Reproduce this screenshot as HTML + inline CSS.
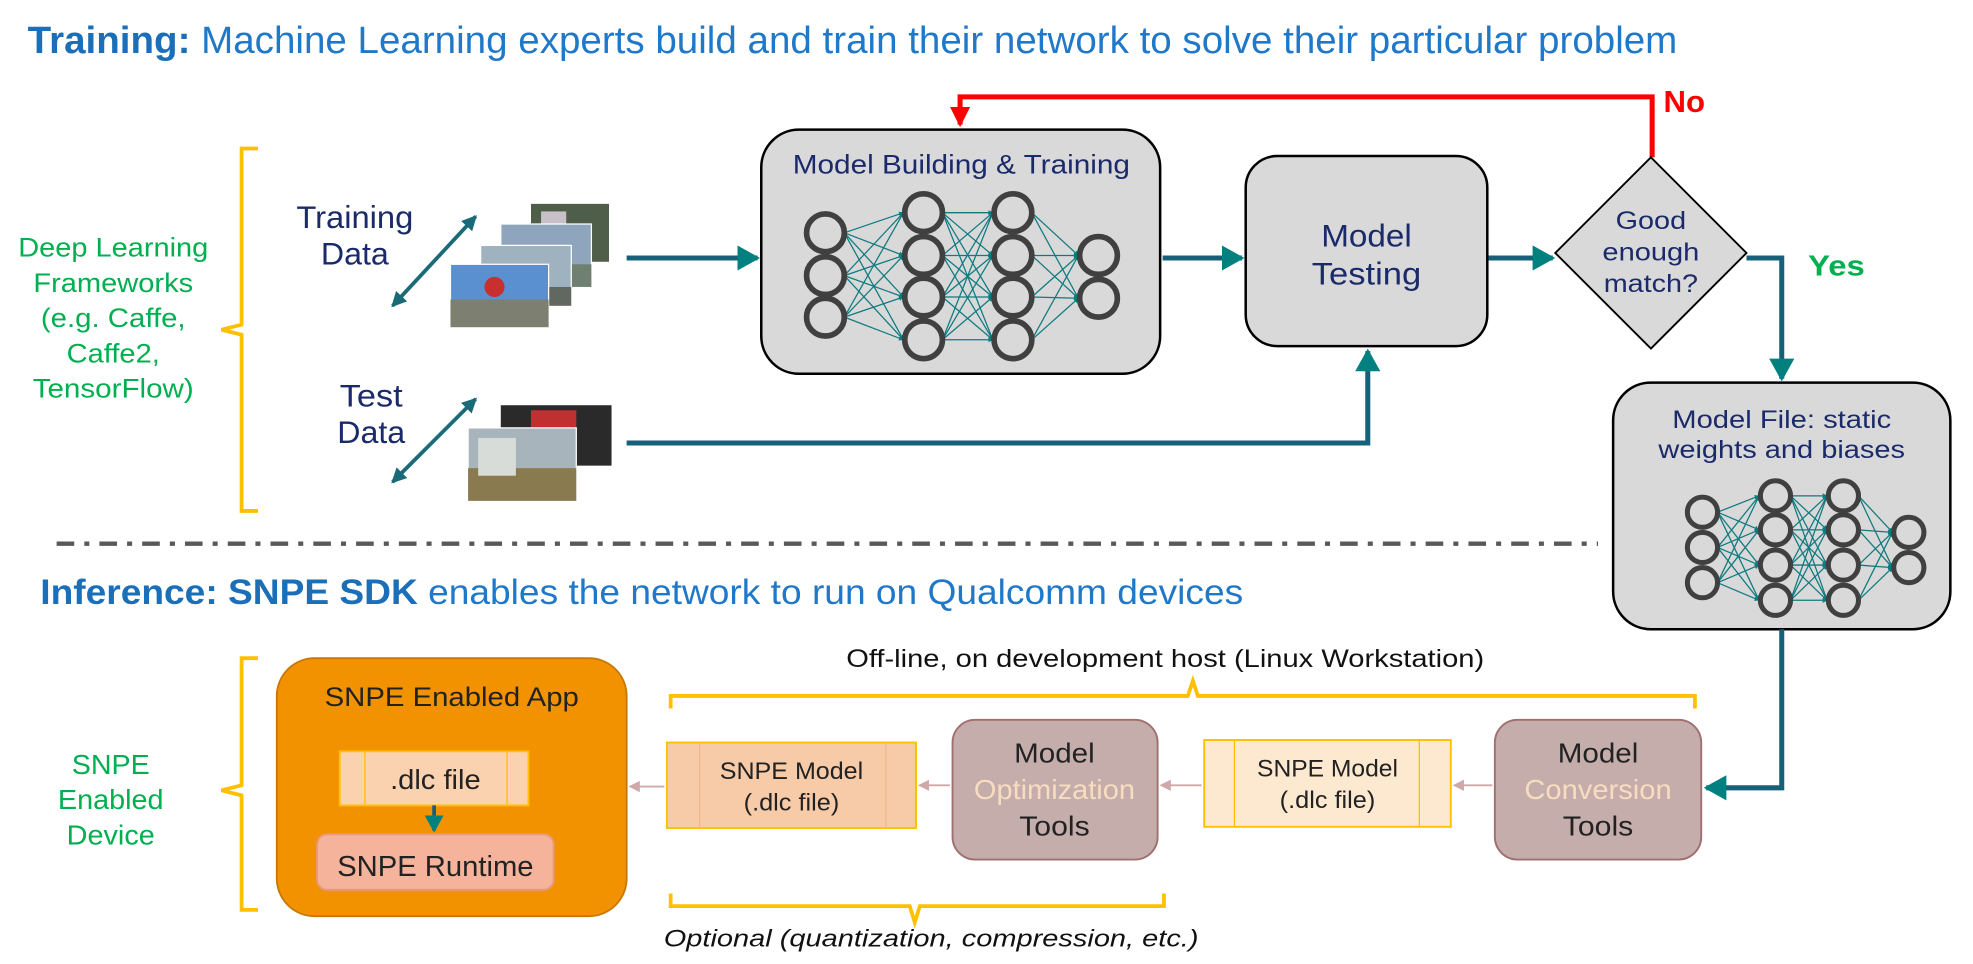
<!DOCTYPE html>
<html><head><meta charset="utf-8"><style>
html,body{margin:0;padding:0;background:#fff;}
svg{display:block;}
text{font-family:"Liberation Sans",sans-serif;}
</style></head><body>
<svg id="s" width="1973" height="964" viewBox="0 0 1568 766" preserveAspectRatio="none" xmlns="http://www.w3.org/2000/svg">
<defs>
<marker id="ta" markerWidth="4.5" markerHeight="5" refX="4" refY="2.5" orient="auto" markerUnits="strokeWidth"><path d="M0,0 L4.5,2.5 L0,5 z" fill="#00807f"/></marker>
<marker id="ra" markerWidth="4" markerHeight="4" refX="3.5" refY="2" orient="auto" markerUnits="strokeWidth"><path d="M0,0 L4,2 L0,4 z" fill="#ff0000"/></marker>
<marker id="pa" markerWidth="6" markerHeight="6" refX="5" refY="3" orient="auto" markerUnits="strokeWidth"><path d="M0,0 L6,3 L0,6 z" fill="#d0a8a8"/></marker>
<marker id="na" markerWidth="4" markerHeight="4" refX="3.5" refY="2" orient="auto" markerUnits="strokeWidth"><path d="M0,0 L4,2 L0,4 z" fill="#00807f"/></marker>
<marker id="nb" markerWidth="4" markerHeight="4" refX="3.5" refY="2" orient="auto-start-reverse" markerUnits="strokeWidth"><path d="M0,0 L4,2 L0,4 z" fill="#1a6a78"/></marker>
</defs>

<text x="22" y="42" font-size="30" fill="#1f78c8" textLength="1311" lengthAdjust="spacingAndGlyphs"><tspan font-weight="bold" fill="#1a6fb8">Training:</tspan> Machine Learning experts build and train their network to solve their particular problem</text>

<polyline points="1313,125 1313,77 763,77 763,99" fill="none" stroke="#ff0000" stroke-width="4" marker-end="url(#ra)"/>
<text x="1322" y="89" font-size="24" font-weight="bold" fill="#ff0000" textLength="33" lengthAdjust="spacingAndGlyphs">No</text>

<path d="M205,118 H192 V258 L176,262 L192,266 V406 H205" fill="none" stroke="#ffc000" stroke-width="3"/>
<path d="M205,523 H192 V624 L176,628 L192,632 V723 H205" fill="none" stroke="#ffc000" stroke-width="3"/>

<g font-size="21" fill="#00b050" text-anchor="middle" lengthAdjust="spacingAndGlyphs">
<text x="90" y="204" textLength="151" lengthAdjust="spacingAndGlyphs">Deep Learning</text>
<text x="90" y="232" textLength="127" lengthAdjust="spacingAndGlyphs">Frameworks</text>
<text x="90" y="260" textLength="115" lengthAdjust="spacingAndGlyphs">(e.g. Caffe,</text>
<text x="90" y="288" textLength="74" lengthAdjust="spacingAndGlyphs">Caffe2,</text>
<text x="90" y="316" textLength="128" lengthAdjust="spacingAndGlyphs">TensorFlow)</text>
</g>
<g font-size="22" fill="#00b050" text-anchor="middle">
<text x="88" y="615" textLength="62" lengthAdjust="spacingAndGlyphs">SNPE</text>
<text x="88" y="643" textLength="84" lengthAdjust="spacingAndGlyphs">Enabled</text>
<text x="88" y="671" textLength="70" lengthAdjust="spacingAndGlyphs">Device</text>
</g>

<g font-size="25" fill="#1a2a6a" text-anchor="middle">
<text x="282" y="181" textLength="93" lengthAdjust="spacingAndGlyphs">Training</text>
<text x="282" y="210" textLength="54" lengthAdjust="spacingAndGlyphs">Data</text>
<text x="295" y="323" textLength="50" lengthAdjust="spacingAndGlyphs">Test</text>
<text x="295" y="352" textLength="54" lengthAdjust="spacingAndGlyphs">Data</text>
</g>
<line x1="312" y1="243" x2="378" y2="172" stroke="#1a6a78" stroke-width="3" marker-start="url(#nb)" marker-end="url(#nb)"/>
<line x1="312" y1="383" x2="378" y2="317" stroke="#1a6a78" stroke-width="3" marker-start="url(#nb)" marker-end="url(#nb)"/>

<rect x="422" y="162" width="62" height="46" fill="#4e5e48"/><rect x="430" y="168" width="20" height="14" fill="#c8c0c8"/>
<rect x="398" y="178" width="72" height="50" fill="#8fa5bd" stroke="#fff"/><rect x="398" y="210" width="72" height="18" fill="#708070"/>
<rect x="382" y="195" width="72" height="48" fill="#9eb2c0" stroke="#fff"/><rect x="382" y="228" width="72" height="15" fill="#606860"/>
<rect x="358" y="210" width="78" height="50" fill="#5a8fd0" stroke="#fff"/><rect x="358" y="238" width="78" height="22" fill="#7d8070"/><circle cx="393" cy="228" r="8" fill="#c83030"/>
<rect x="398" y="322" width="88" height="48" fill="#2a2a2a"/><rect x="422" y="326" width="36" height="20" fill="#c03030"/>
<rect x="372" y="340" width="86" height="58" fill="#a8b4bc" stroke="#fff"/><rect x="372" y="372" width="86" height="26" fill="#8a7a50"/><rect x="380" y="348" width="30" height="30" fill="#d8dcd8"/>

<line x1="498" y1="205" x2="602" y2="205" stroke="#17607a" stroke-width="4" marker-end="url(#ta)"/>
<line x1="924" y1="205" x2="987" y2="205" stroke="#17607a" stroke-width="4" marker-end="url(#ta)"/>
<line x1="1183" y1="205" x2="1234" y2="205" stroke="#17607a" stroke-width="4" marker-end="url(#ta)"/>
<polyline points="1388,205 1416,205 1416,301" fill="none" stroke="#17607a" stroke-width="4" marker-end="url(#ta)"/>
<polyline points="498,352 1087,352 1087,279" fill="none" stroke="#17607a" stroke-width="4" marker-end="url(#ta)"/>
<text x="1437" y="219" font-size="23" font-weight="bold" fill="#00b050" textLength="45" lengthAdjust="spacingAndGlyphs">Yes</text>

<rect x="605" y="103" width="317" height="194" rx="30" fill="#d9d9d9" stroke="#000" stroke-width="2"/>
<text x="764" y="138" font-size="21" fill="#1a2a6a" text-anchor="middle" textLength="268" lengthAdjust="spacingAndGlyphs">Model Building  &amp; Training</text>
<g id="n1"></g>

<rect x="990" y="124" width="192" height="151" rx="25" fill="#d9d9d9" stroke="#000" stroke-width="2"/>
<text x="1086" y="196" font-size="25" fill="#1a2a6a" text-anchor="middle" textLength="72" lengthAdjust="spacingAndGlyphs">Model</text>
<text x="1086" y="226" font-size="25" fill="#1a2a6a" text-anchor="middle" textLength="87" lengthAdjust="spacingAndGlyphs">Testing</text>

<polygon points="1312,125 1388,201 1312,277 1236,201" fill="#d9d9d9" stroke="#000" stroke-width="1.5"/>
<g font-size="20" fill="#1a2a6a" text-anchor="middle">
<text x="1312" y="182" textLength="56" lengthAdjust="spacingAndGlyphs">Good</text><text x="1312" y="207" textLength="77" lengthAdjust="spacingAndGlyphs">enough</text><text x="1312" y="232" textLength="75" lengthAdjust="spacingAndGlyphs">match?</text>
</g>

<rect x="1282" y="304" width="268" height="196" rx="30" fill="#d9d9d9" stroke="#000" stroke-width="2"/>
<text x="1416" y="340" font-size="20" fill="#1a2a6a" text-anchor="middle" textLength="174" lengthAdjust="spacingAndGlyphs">Model File: static</text>
<text x="1416" y="364" font-size="20" fill="#1a2a6a" text-anchor="middle" textLength="196" lengthAdjust="spacingAndGlyphs">weights and biases</text>
<g id="n2"></g>

<line x1="45" y1="432" x2="1270" y2="432" stroke="#595959" stroke-width="3.5" stroke-dasharray="14,8,4,8"/>

<text x="32" y="480" font-size="28" fill="#1f78c8" textLength="956" lengthAdjust="spacingAndGlyphs"><tspan font-weight="bold" fill="#1a6fb8">Inference: SNPE SDK</tspan> enables the network to run on Qualcomm devices</text>

<rect x="220" y="523" width="278" height="205" rx="30" fill="#f39200" stroke="#c87800" stroke-width="1.5"/>
<text x="359" y="561" font-size="21" fill="#222" text-anchor="middle" textLength="202" lengthAdjust="spacingAndGlyphs">SNPE Enabled App</text>
<rect x="270" y="597" width="150" height="43" fill="#fad2b0" stroke="#ffc000" stroke-width="1.5"/>
<line x1="290" y1="597" x2="290" y2="640" stroke="#ffc000"/><line x1="403" y1="597" x2="403" y2="640" stroke="#ffc000"/>
<text x="346" y="627" font-size="22" fill="#222" text-anchor="middle" textLength="72" lengthAdjust="spacingAndGlyphs">.dlc file</text>
<line x1="345" y1="640" x2="345" y2="660" stroke="#17607a" stroke-width="3" marker-end="url(#ta)"/>
<rect x="252" y="663" width="188" height="44" rx="8" fill="#f4b39a" stroke="#e89a80" stroke-width="1.5"/>
<text x="346" y="696" font-size="23" fill="#222" text-anchor="middle" textLength="156" lengthAdjust="spacingAndGlyphs">SNPE Runtime</text>

<path d="M533,563 V553 H944 L948,541 L952,553 H1347 V563" fill="none" stroke="#ffc000" stroke-width="3"/>
<text x="926" y="530" font-size="20" fill="#111" text-anchor="middle" textLength="507" lengthAdjust="spacingAndGlyphs">Off-line, on development host (Linux Workstation)</text>
<path d="M533,710 V720 H723 L727,733 L731,720 H925 V710" fill="none" stroke="#ffc000" stroke-width="3"/>
<text x="740" y="752" font-size="19" font-style="italic" fill="#111" text-anchor="middle" textLength="425" lengthAdjust="spacingAndGlyphs">Optional (quantization, compression, etc.)</text>

<rect x="530" y="590" width="198" height="68" fill="#f8cba8" stroke="#ffc000" stroke-width="1.5"/>
<line x1="556" y1="590" x2="556" y2="658" stroke="#f0b888"/><line x1="704" y1="590" x2="704" y2="658" stroke="#f0b888"/>
<text x="629" y="619" font-size="19" fill="#222" text-anchor="middle" textLength="114" lengthAdjust="spacingAndGlyphs">SNPE Model</text>
<text x="629" y="644" font-size="19" fill="#222" text-anchor="middle" textLength="76" lengthAdjust="spacingAndGlyphs">(.dlc file)</text>

<rect x="757" y="572" width="163" height="111" rx="18" fill="#c5adab" stroke="#a07070" stroke-width="1.5"/>
<text x="838" y="606" font-size="22" fill="#222" text-anchor="middle" textLength="64" lengthAdjust="spacingAndGlyphs">Model</text>
<text x="838" y="635" font-size="22" fill="#f8dcc0" text-anchor="middle" textLength="128" lengthAdjust="spacingAndGlyphs">Optimization</text>
<text x="838" y="664" font-size="22" fill="#222" text-anchor="middle" textLength="56" lengthAdjust="spacingAndGlyphs">Tools</text>

<rect x="957" y="588" width="196" height="69" fill="#fde9d0" stroke="#ffc000" stroke-width="1.5"/>
<line x1="981" y1="588" x2="981" y2="657" stroke="#ffc000"/><line x1="1128" y1="588" x2="1128" y2="657" stroke="#ffc000"/>
<text x="1055" y="617" font-size="19" fill="#222" text-anchor="middle" textLength="112" lengthAdjust="spacingAndGlyphs">SNPE Model</text>
<text x="1055" y="642" font-size="19" fill="#222" text-anchor="middle" textLength="76" lengthAdjust="spacingAndGlyphs">(.dlc file)</text>

<rect x="1188" y="572" width="164" height="111" rx="18" fill="#c5adab" stroke="#a07070" stroke-width="1.5"/>
<text x="1270" y="606" font-size="22" fill="#222" text-anchor="middle" textLength="64" lengthAdjust="spacingAndGlyphs">Model</text>
<text x="1270" y="635" font-size="22" fill="#f8dcc0" text-anchor="middle" textLength="117" lengthAdjust="spacingAndGlyphs">Conversion</text>
<text x="1270" y="664" font-size="22" fill="#222" text-anchor="middle" textLength="56" lengthAdjust="spacingAndGlyphs">Tools</text>

<g stroke="#d0a8a8" stroke-width="1.5">
<line x1="528" y1="625" x2="501" y2="625" marker-end="url(#pa)"/>
<line x1="755" y1="624" x2="731" y2="624" marker-end="url(#pa)"/>
<line x1="955" y1="624" x2="923" y2="624" marker-end="url(#pa)"/>
<line x1="1186" y1="624" x2="1156" y2="624" marker-end="url(#pa)"/>
</g>
<polyline points="1416,500 1416,626 1356,626" fill="none" stroke="#17607a" stroke-width="4" marker-end="url(#ta)"/>
</svg>
<script>
function net(id,cols,r,sw){
 var g=document.getElementById(id),h="";
 for(var c=0;c<cols.length-1;c++){var a=cols[c],b=cols[c+1];
  a.ys.forEach(function(y1){b.ys.forEach(function(y2){
   h+='<line x1="'+(a.x+r)+'" y1="'+y1+'" x2="'+(b.x-r-1)+'" y2="'+y2+'" stroke="#0f7b80" stroke-width="1" marker-end="url(#na)"/>';});});}
 cols.forEach(function(c){c.ys.forEach(function(y){
  h+='<circle cx="'+c.x+'" cy="'+y+'" r="'+r+'" fill="none" stroke="#404040" stroke-width="'+sw+'"/>';});});
 g.innerHTML=h;
}
net("n1",[{x:656,ys:[185,219,252]},{x:734,ys:[169,203,236,270]},{x:805,ys:[169,203,236,270]},{x:873,ys:[203,237]}],15,4.5);
net("n2",[{x:1353,ys:[407,435,463]},{x:1411,ys:[394,421,449,477]},{x:1465,ys:[394,421,449,477]},{x:1517,ys:[423,451]}],12,4);
</script>
</body></html>
